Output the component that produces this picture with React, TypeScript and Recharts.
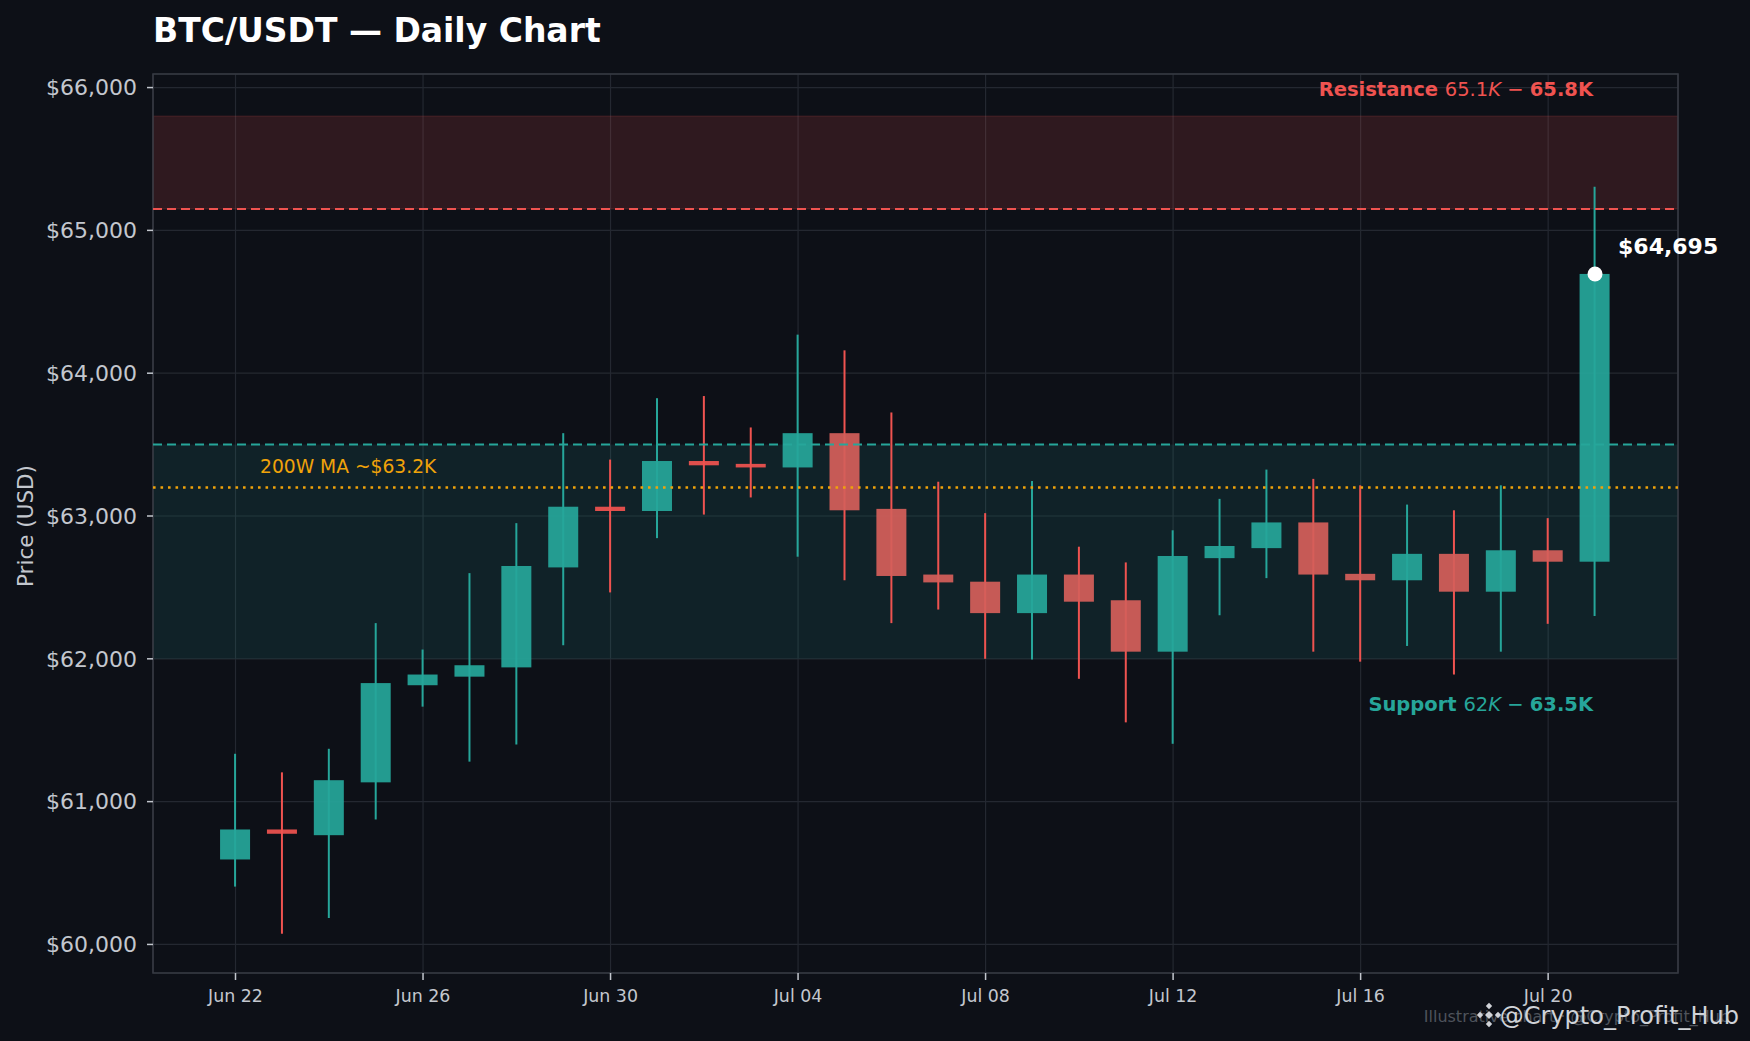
import React from 'react';
import {
  ComposedChart,
  Bar,
  XAxis,
  YAxis,
  CartesianGrid,
  ReferenceArea,
  ReferenceLine,
  ReferenceDot,
} from 'recharts';

const DATES = [
  'Jun 22', 'Jun 23', 'Jun 24', 'Jun 25', 'Jun 26', 'Jun 27', 'Jun 28', 'Jun 29', 'Jun 30',
  'Jul 01', 'Jul 02', 'Jul 03', 'Jul 04', 'Jul 05', 'Jul 06', 'Jul 07', 'Jul 08', 'Jul 09',
  'Jul 10', 'Jul 11', 'Jul 12', 'Jul 13', 'Jul 14', 'Jul 15', 'Jul 16', 'Jul 17', 'Jul 18',
  'Jul 19', 'Jul 20', 'Jul 21',
];
const OPEN = [
  60595, 60805, 60765, 61135, 61815, 61875, 61940, 62640, 63065, 63035,
  63385, 63365, 63340, 63580, 63050, 62590, 62540, 62320, 62590, 62410,
  62050, 62705, 62775, 62955, 62595, 62550, 62735, 62470, 62760, 62680,
];
const HIGH = [
  61335, 61205, 61370, 62250, 62065, 62600, 62950, 63580, 63395, 63825,
  63840, 63620, 64270, 64160, 63725, 63240, 63020, 63245, 62785, 62675,
  62900, 63120, 63325, 63260, 63215, 63080, 63040, 63215, 62985, 65305,
];
const LOW = [
  60405, 60075, 60185, 60875, 61665, 61280, 61400, 62095, 62465, 62845,
  63010, 63130, 62715, 62550, 62250, 62345, 62000, 61995, 61860, 61555,
  61405, 62305, 62565, 62050, 61980, 62090, 61890, 62050, 62245, 62300,
];
const CLOSE = [
  60805, 60775, 61150, 61830, 61890, 61955, 62650, 63065, 63035, 63385,
  63355, 63340, 63580, 63040, 62580, 62535, 62320, 62590, 62400, 62050,
  62720, 62790, 62955, 62590, 62550, 62735, 62470, 62760, 62680, 64695,
];

const Y_TICKS = [60000, 61000, 62000, 63000, 64000, 65000, 66000];
const X_TICKS = [0, 4, 8, 12, 16, 20, 24, 28];

const RESISTANCE = [65150, 65800];
const SUPPORT = [62000, 63500];
const MA_200W = 63200;

const X_DOMAIN = [-1.76, 30.77];
const Y_DOMAIN = [59800, 66095];

const BG = '#0d1017';
const UP = '#26a69a';
const DOWN = '#ef5350';
const DOWN_BODY = '#d45f5a';
const TEXT = '#c3c7ce';
const FONT = '"DejaVu Sans", sans-serif';

const data = DATES.map((d, i) => ({
  i,
  date: d,
  open: OPEN[i],
  high: HIGH[i],
  low: LOW[i],
  close: CLOSE[i],
  range: [LOW[i], HIGH[i]],
}));

const lastIdx = data.length - 1;
const lastClose = CLOSE[lastIdx];

const Candle = (props: any) => {
  const { x, y, width, height, payload } = props;
  const { open, close, high, low } = payload;
  const up = close >= open;
  const k = height / (high - low);
  const py = (v: number) => y + (high - v) * k;
  const cx = x + width / 2;
  const top = py(Math.max(open, close));
  const bot = py(Math.min(open, close));
  const thin = bot - top < 6;
  return (
    <g>
      <line x1={cx} x2={cx} y1={y} y2={y + height} stroke={up ? UP : DOWN} strokeWidth={2} />
      <rect
        x={x}
        y={top}
        width={width}
        height={Math.max(bot - top, 2)}
        fill={up ? UP : thin ? DOWN : DOWN_BODY}
        fillOpacity={0.93}
      />
    </g>
  );
};

const ZoneLabel = ({ viewBox, title, from, to, color, above }: any) => {
  const x = viewBox.x + viewBox.width - 85;
  const y = above ? viewBox.y - 20 : viewBox.y + viewBox.height + 52;
  return (
    <text x={x} y={y} textAnchor="end" fill={color} fontSize={19.5} fontFamily={FONT}>
      <tspan fontWeight="bold">{title} </tspan>
      <tspan>{from}</tspan>
      <tspan fontStyle="italic">K</tspan>
      <tspan> − </tspan>
      <tspan fontWeight="bold">{to}</tspan>
    </text>
  );
};

const MaLabel = ({ viewBox }: any) => (
  <text x={viewBox.x + 107} y={viewBox.y - 14} fill="#f0a30a" fontSize={18.7} fontFamily={FONT}>
    200W MA ~$63.2K
  </text>
);

const PriceLabel = ({ viewBox }: any) => (
  <text
    x={viewBox.x + viewBox.width / 2 + 23}
    y={viewBox.y + viewBox.height / 2 - 20}
    fill="#ffffff"
    fontSize={22}
    fontWeight="bold"
    fontFamily={FONT}
  >
    ${lastClose.toLocaleString('en-US')}
  </text>
);

const Logo = ({ cx, cy }: { cx: number; cy: number }) => {
  const d = (x: number, y: number, s: number) =>
    `${x},${y - s} ${x + s},${y} ${x},${y + s} ${x - s},${y}`;
  return (
    <g fill="#d0d3d8">
      <polygon points={d(cx, cy, 4)} />
      <polygon points={d(cx, cy - 9, 3.2)} />
      <polygon points={d(cx, cy + 9, 3.2)} />
      <polygon points={d(cx - 9, cy, 3.2)} />
      <polygon points={d(cx + 9, cy, 3.2)} />
    </g>
  );
};

export default function App() {
  return (
    <div style={{ position: 'fixed', left: 0, top: 0, width: 1750, height: 1041, background: BG }}>
      <ComposedChart
        width={1750}
        height={1041}
        data={data}
        margin={{ top: 74, right: 72, bottom: 38, left: 0 }}
      >
        <CartesianGrid stroke="#242831" strokeWidth={1.2} />
        <XAxis
          dataKey="i"
          type="number"
          domain={X_DOMAIN}
          ticks={X_TICKS}
          tickFormatter={(v: number) => DATES[v]}
          allowDataOverflow
          height={30}
          axisLine={false}
          tickLine={{ stroke: TEXT, strokeWidth: 1.5 }}
          tickSize={7}
          tickMargin={10}
          tick={{ fill: TEXT, fontSize: 17.4, fontFamily: FONT }}
        />
        <YAxis
          type="number"
          domain={Y_DOMAIN}
          ticks={Y_TICKS}
          allowDataOverflow
          width={153}
          tickFormatter={(v: number) => `$${v.toLocaleString('en-US')}`}
          axisLine={false}
          tickLine={{ stroke: TEXT, strokeWidth: 1.5 }}
          tickSize={6}
          tickMargin={10}
          tick={{ fill: TEXT, fontSize: 22, fontFamily: FONT }}
        />
        <ReferenceArea
          y1={RESISTANCE[0]}
          y2={RESISTANCE[1]}
          fill={DOWN}
          fillOpacity={0.15}
          stroke={DOWN}
          strokeOpacity={0.2}
          label={(p: any) => (
            <ZoneLabel {...p} title="Resistance" from="65.1" to="65.8K" color={DOWN} above />
          )}
        />
        <ReferenceArea
          y1={SUPPORT[0]}
          y2={SUPPORT[1]}
          fill={UP}
          fillOpacity={0.13}
          label={(p: any) => (
            <ZoneLabel {...p} title="Support" from="62" to="63.5K" color={UP} />
          )}
        />
        <ReferenceLine y={RESISTANCE[0]} stroke={DOWN} strokeWidth={2} strokeDasharray="9 5" />
        <ReferenceLine y={SUPPORT[1]} stroke={UP} strokeWidth={2} strokeDasharray="9 5" />
        <ReferenceLine
          y={MA_200W}
          stroke="#f0a30a"
          strokeWidth={2.6}
          strokeDasharray="2.6 4.9"
          label={(p: any) => <MaLabel {...p} />}
        />
        <Bar
          dataKey="range"
          barSize={30}
          shape={(p: any) => <Candle {...p} />}
          isAnimationActive={false}
        />
        <ReferenceDot
          x={lastIdx}
          y={lastClose}
          r={7.5}
          fill="#ffffff"
          stroke="none"
          label={(p: any) => <PriceLabel {...p} />}
        />
        <ReferenceArea
          x1={X_DOMAIN[0]}
          x2={X_DOMAIN[1]}
          y1={Y_DOMAIN[0]}
          y2={Y_DOMAIN[1]}
          fill="none"
          stroke="#363a43"
          strokeWidth={1.6}
        />
      </ComposedChart>
      <svg
        width={1750}
        height={1041}
        style={{ position: 'absolute', left: 0, top: 0, pointerEvents: 'none' }}
      >
        <text x={153} y={42} fill="#ffffff" fontSize={33} fontWeight="bold" fontFamily={FONT}>
          BTC/USDT — Daily Chart
        </text>
        <text
          x={25}
          y={526}
          transform="rotate(-90 25 526)"
          textAnchor="middle"
          dominantBaseline="central"
          fill={TEXT}
          fontSize={21.5}
          fontFamily={FONT}
        >
          Price (USD)
        </text>
        <text x={1730} y={1022} textAnchor="end" fill="#4e535b" fontSize={16} fontFamily={FONT}>
          Illustrative chart · @Crypto_Profit_Hub
        </text>
        <Logo cx={1489} cy={1015} />
        <text x={1739} y={1024} textAnchor="end" fill="#d0d3d8" fontSize={24} fontFamily={FONT}>
          @Crypto_Profit_Hub
        </text>
      </svg>
    </div>
  );
}
